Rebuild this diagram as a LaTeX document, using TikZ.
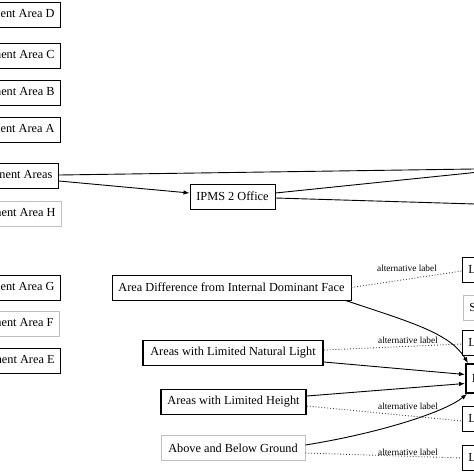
\documentclass[tikz,border=0pt]{standalone}
\usepackage{fontspec}
\setmainfont{Liberation Serif}
\usetikzlibrary{arrows.meta,calc}
\tikzset{
  box/.style={draw=black, rectangle, minimum height=25pt, inner xsep=6pt, inner ysep=0pt,
    font=\fontsize{12.3}{14}\selectfont, line width=0.9pt},
  boldbox/.style={box, line width=1.8pt},
  midbox/.style={box, line width=1.3pt},
  lightbox/.style={box, draw=gray!50},
  cutbox/.style={text width=30pt, align=left},
  altlab/.style={font=\fontsize{9.3}{10}\selectfont, inner sep=0.5pt},
  dotedge/.style={dotted, line width=0.9pt, draw=black!75},
  arr/.style={-{Latex[length=6pt,width=4.5pt]}, line width=0.9pt},
  plain/.style={line width=0.9pt}
}
\begin{document}
\begin{tikzpicture}[x=1pt,y=-1pt]
\useasboundingbox (0,0) rectangle (474,474);
\clip (0,0) rectangle (474,474);
% left column
\node[box, anchor=east] (cD) at (61,15) {Component Area D};
\node[box, anchor=east] (cC) at (61,55.5) {Component Area C};
\node[box, anchor=east] (cB) at (61,92.5) {Component Area B};
\node[box, anchor=east] (cA) at (61,130) {Component Area A};
\node[midbox, anchor=east] (comp) at (59,176) {Component Areas};
\node[lightbox, anchor=east] (cH) at (62,214) {Component Area H};
\node[box, anchor=east] (cG) at (61,287.5) {Component Area G};
\node[lightbox, anchor=east] (cF) at (60,324) {Component Area F};
\node[box, anchor=east] (cE) at (61,361) {Component Area E};
% middle
\node[box, minimum width=85pt] (ipms) at (232.5,196.5) {IPMS 2 Office};
\node[box, inner xsep=4pt, minimum width=239pt] (adiff) at (231.5,287.5) {Area Difference from Internal Dominant Face};
\node[boldbox, minimum width=180pt] (nat) at (233,353) {Areas with Limited Natural Light};
\node[boldbox, minimum width=145pt] (hgt) at (233.5,402) {Areas with Limited Height};
\node[lightbox, minimum width=144pt] (abg) at (233,448) {Above and Below Ground};
% right column (cut by the edge)
\node[box, cutbox, anchor=west] (L1) at (462,269.5) {L};
\node[lightbox, cutbox, anchor=west] (S1) at (463,307.5) {S};
\node[box, cutbox, anchor=west] (L2) at (462,342.5) {L};
\node[boldbox, cutbox, anchor=west, minimum height=29pt] (tgt) at (465,378.5) {I};
\node[box, cutbox, anchor=west] (L3) at (462,418.5) {L};
\node[box, cutbox, anchor=west] (L4) at (462,457.5) {L};
% off-picture ends
\coordinate (offA) at (495,168.7);
\coordinate (offB) at (495,170.4);
\coordinate (offC) at (495,204.6);
% upper edges
\draw[arr] ([yshift=-5pt]comp.east) -- ([yshift=3.5pt]ipms.west);
\draw[arr] ([yshift=1pt]comp.east) -- (offA);
\draw[arr] ([yshift=3.5pt]ipms.east) -- (offB);
\draw[arr] ([yshift=-1.5pt]ipms.east) -- (offC);
% arrows into target
\draw[arr] ([xshift=-6pt]adiff.south east) .. controls (410,322) and (450,333) .. ([xshift=3pt]tgt.north west);
\draw[arr] ([yshift=-9pt]nat.east) -- ([yshift=4pt]tgt.west);
\draw[arr] ([yshift=6pt]hgt.east) -- ([yshift=-5pt]tgt.west);
\draw[arr] ([yshift=3pt]abg.east) .. controls (380,433) and (445,412) .. ([xshift=2pt]tgt.south west);
% dotted alternative edges
\draw[dotedge] (adiff.east) -- ([yshift=-1.5pt]L1.west);
\draw[dotedge] ([yshift=3pt]nat.east) -- ([yshift=-1.5pt]L2.west);
\draw[dotedge] ([yshift=-4pt]hgt.east) -- ([yshift=-2.5pt]L3.west);
\draw[dotedge] ([yshift=-5pt]abg.east) -- ([yshift=-0.5pt]L4.west);
\node[altlab] (lab1) at (407,268) {alternative label};
\node[altlab] (lab2) at (408,340) {alternative label};
\node[altlab] (lab3) at (408,406) {alternative label};
\node[altlab] (lab4) at (408,452.5) {alternative label};
\end{tikzpicture}
\end{document}
